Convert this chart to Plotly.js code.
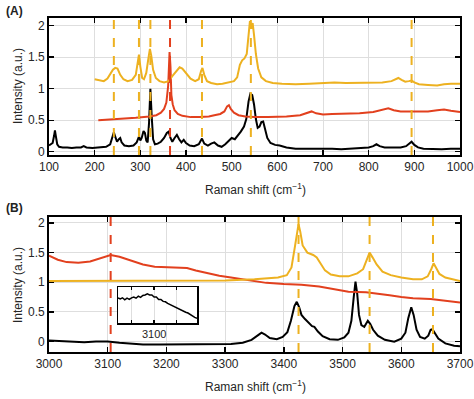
<!DOCTYPE html>
<html><head><meta charset="utf-8">
<script src="https://cdn.plot.ly/plotly-3.0.1.min.js"></script>
<style>html,body{margin:0;padding:0;background:#fff}#chart{width:474px;height:399px}</style>
</head><body><div id="chart"></div>
<script>
// ---------- DATA ----------
const aBlackX = [100,104,108,111,113,115,118,122,130,140,150,160,170,176,182,195,210,225,234,239,242,245,249,253,256,259,265,275,285,292,297,300,303,307,310,313,316,319,322,325,328,332,338,345,352,358,362,366,370,375,380,385,390,395,400,408,418,428,435,440,448,455,462,470,478,486,493,500,507,513,520,527,532,537,541,545,549,553,557,561,565,569,573,578,585,595,605,620,640,660,680,700,720,740,760,780,800,810,817,824,835,850,870,882,890,894,900,908,920,940,960,980,1000];
const aBlackY = [0.10,0.12,0.14,0.25,0.34,0.25,0.12,0.08,0.07,0.07,0.06,0.07,0.07,0.09,0.07,0.06,0.07,0.08,0.12,0.22,0.31,0.24,0.16,0.20,0.22,0.15,0.10,0.09,0.10,0.15,0.24,0.18,0.22,0.33,0.30,0.18,0.15,0.45,1.00,0.55,0.20,0.12,0.13,0.16,0.22,0.30,0.32,0.22,0.16,0.22,0.27,0.20,0.15,0.19,0.14,0.10,0.09,0.12,0.21,0.13,0.10,0.13,0.15,0.10,0.08,0.12,0.17,0.22,0.20,0.25,0.32,0.40,0.52,0.80,0.92,0.90,0.75,0.52,0.38,0.40,0.47,0.48,0.38,0.22,0.14,0.11,0.10,0.07,0.05,0.05,0.06,0.06,0.05,0.04,0.05,0.05,0.07,0.09,0.12,0.09,0.07,0.07,0.07,0.09,0.14,0.16,0.11,0.07,0.05,0.04,0.04,0.05,0.05];

const aRedX = [208,230,260,290,320,335,345,352,357,361,364,366,368,371,375,382,392,410,430,450,462,475,484,490,494,498,505,515,530,550,580,620,650,665,675,685,700,720,750,780,810,830,843,855,870,900,930,950,965,980,1000];
const aRedY = [0.50,0.51,0.52,0.54,0.56,0.58,0.62,0.68,0.78,1.05,1.58,1.35,0.90,0.75,0.66,0.60,0.57,0.55,0.55,0.56,0.58,0.60,0.64,0.72,0.74,0.68,0.62,0.58,0.56,0.55,0.55,0.56,0.58,0.62,0.64,0.61,0.59,0.60,0.60,0.61,0.63,0.66,0.69,0.66,0.64,0.64,0.64,0.66,0.67,0.65,0.63];

const aYellowX = [200,210,220,228,235,240,245,250,256,263,272,282,290,294,297,300,304,308,313,317,321,324,328,334,342,352,362,370,378,386,392,400,410,420,428,433,436,440,446,455,468,480,495,505,512,518,523,528,533,537,540,543,546,549,553,558,565,575,590,610,640,670,700,725,750,775,800,830,850,858,865,872,880,888,894,900,910,930,950,965,980,1000];
const aYellowY = [1.15,1.13,1.12,1.16,1.25,1.30,1.33,1.32,1.22,1.15,1.12,1.14,1.22,1.38,1.54,1.35,1.17,1.15,1.25,1.45,1.63,1.52,1.30,1.17,1.12,1.10,1.12,1.20,1.28,1.34,1.32,1.24,1.16,1.12,1.15,1.28,1.33,1.22,1.12,1.09,1.07,1.08,1.10,1.12,1.18,1.38,1.45,1.48,1.55,1.80,2.07,1.95,2.04,1.85,1.55,1.32,1.18,1.12,1.09,1.08,1.07,1.08,1.09,1.10,1.09,1.09,1.09,1.10,1.12,1.15,1.17,1.14,1.11,1.12,1.13,1.10,1.07,1.06,1.05,1.07,1.08,1.08];

const bBlackX = [3000,3020,3040,3060,3080,3100,3120,3140,3160,3190,3220,3250,3280,3310,3330,3345,3355,3362,3368,3376,3388,3398,3406,3412,3418,3422,3426,3430,3436,3442,3448,3452,3458,3466,3478,3492,3503,3510,3515,3519,3522,3525,3528,3532,3537,3543,3547,3552,3560,3572,3588,3600,3607,3612,3617,3621,3626,3632,3640,3646,3650,3653,3657,3663,3675,3690,3700];
const bBlackY = [0.02,0.01,-0.01,-0.01,0.00,0.00,-0.02,-0.04,-0.05,-0.05,-0.05,-0.05,-0.04,-0.04,-0.02,0.03,0.10,0.15,0.12,0.06,0.04,0.08,0.16,0.35,0.60,0.67,0.58,0.45,0.38,0.32,0.26,0.25,0.17,0.09,0.04,0.03,0.07,0.15,0.35,0.75,1.01,0.80,0.45,0.28,0.25,0.35,0.30,0.20,0.10,0.03,0.00,0.05,0.15,0.40,0.58,0.45,0.20,0.08,0.05,0.10,0.20,0.21,0.14,0.05,-0.03,-0.07,-0.08];

const bRedX = [3000,3015,3030,3050,3070,3090,3105,3120,3140,3160,3180,3200,3220,3235,3250,3270,3290,3310,3330,3350,3370,3400,3430,3460,3490,3510,3540,3560,3580,3600,3620,3650,3670,3700];
const bRedY = [1.45,1.38,1.34,1.33,1.35,1.41,1.46,1.43,1.36,1.30,1.26,1.25,1.25,1.24,1.20,1.15,1.11,1.08,1.05,1.02,0.99,0.97,0.96,0.93,0.87,0.84,0.83,0.81,0.78,0.75,0.73,0.72,0.70,0.66];

const bYellowX = [3000,3100,3200,3300,3350,3390,3405,3413,3418,3422,3425,3428,3432,3440,3450,3456,3462,3470,3480,3495,3510,3525,3535,3541,3546,3551,3558,3568,3582,3600,3620,3635,3645,3651,3655,3659,3665,3675,3690,3700];
const bYellowY = [1.02,1.02,1.02,1.03,1.05,1.08,1.12,1.25,1.55,1.85,1.98,1.85,1.62,1.50,1.46,1.42,1.32,1.20,1.13,1.10,1.10,1.15,1.22,1.38,1.50,1.42,1.30,1.18,1.12,1.08,1.05,1.05,1.10,1.22,1.32,1.25,1.14,1.08,1.04,1.02];

const insetX = [3020,3025,3030,3035,3040,3045,3050,3055,3060,3065,3070,3075,3080,3085,3090,3095,3100,3105,3110,3115,3120,3125,3130,3135,3140,3145,3150,3155,3160,3165,3170,3175,3180,3185,3190,3195];
const insetY = [0.68,0.65,0.68,0.63,0.67,0.64,0.68,0.70,0.67,0.72,0.69,0.74,0.75,0.78,0.75,0.75,0.70,0.70,0.64,0.64,0.59,0.58,0.54,0.51,0.48,0.46,0.42,0.41,0.37,0.35,0.32,0.30,0.26,0.23,0.19,0.17];
const insetTickVals = [3050,3100,3150];
const insetLabel = '3100';

const aYellowMarks = [242,297,322,435,542,894];
const aRedMarks = [365];
const bRedMarks = [3105];
const bYellowMarks = [3425,3546,3654];

const xTicksA = [100,200,300,400,500,600,700,800,900,1000];
const xTicksB = [3000,3100,3200,3300,3400,3500,3600,3700];
const yTicks = [0,0.5,1,1.5,2];
const yTickText = ['0','0.5','1','1.5','2'];

// ---------- STYLE / LAYOUT ----------
const W = 474, H = 399;
const px = v => v / W;
const py = v => 1 - v / H;
const YEL = '#EDB120', RED = '#E2401E', BLK = '#000000';
const FONT = {family: 'Liberation Sans, Arial, sans-serif', size: 12, color: '#262626'};

function line(x, y, c, xa, ya, w) {
  return {x: x, y: y, type: 'scatter', mode: 'lines', xaxis: xa, yaxis: ya,
          line: {color: c, width: w || 2}, hoverinfo: 'skip', showlegend: false};
}
const data = [
  line(aBlackX, aBlackY, BLK, 'x', 'y'),
  line(aRedX, aRedY, RED, 'x', 'y'),
  line(aYellowX, aYellowY, YEL, 'x', 'y'),
  line(bBlackX, bBlackY, BLK, 'x2', 'y2'),
  line(bRedX, bRedY, RED, 'x2', 'y2'),
  line(bYellowX, bYellowY, YEL, 'x2', 'y2'),
  line(insetX, insetY, BLK, 'x3', 'y3', 1.5)
];

function ax(extra) {
  return Object.assign({
    showgrid: true, gridcolor: '#dedede', gridwidth: 1, zeroline: false,
    showline: true, linecolor: '#000', linewidth: 1.8, mirror: 'ticks',
    ticks: 'inside', ticklen: 5, tickwidth: 1.3, tickcolor: '#000',
    tickfont: FONT, fixedrange: true
  }, extra);
}

const shapes = [];
function vmarks(list, c, xr, yr) {
  list.forEach(v => shapes.push({type: 'line', xref: xr, yref: yr + ' domain', x0: v, x1: v, y0: 0, y1: 1,
    line: {color: c, width: 2, dash: 'dash'}, layer: 'above'}));
}
shapes.push({type: 'rect', xref: 'x3 domain', yref: 'y3 domain', x0: 0, x1: 1, y0: 0, y1: 1,
  fillcolor: '#fff', line: {width: 0}, layer: 'below'});
vmarks(aYellowMarks, YEL, 'x', 'y');
vmarks(aRedMarks, RED, 'x', 'y');
vmarks(bRedMarks, RED, 'x2', 'y2');
vmarks(bYellowMarks, YEL, 'x2', 'y2');

const ann = (t, x, y, extra) => Object.assign({text: t, xref: 'paper', yref: 'paper', x: px(x), y: py(y),
  showarrow: false, font: FONT, xanchor: 'center', yanchor: 'middle'}, extra || {});

const layout = {
  width: W, height: H, margin: {l: 0, r: 0, t: 0, b: 0},
  paper_bgcolor: '#fff', plot_bgcolor: '#fff', showlegend: false, font: FONT,
  xaxis: ax({domain: [px(49), px(460)], anchor: 'y', range: [100, 1000], tickvals: xTicksA}),
  yaxis: ax({domain: [py(155), py(18)], anchor: 'x', range: [-0.05, 2.12], tickvals: yTicks, ticktext: yTickText}),
  xaxis2: ax({domain: [px(49), px(460)], anchor: 'y2', range: [3000, 3700], tickvals: xTicksB}),
  yaxis2: ax({domain: [py(352), py(217)], anchor: 'x2', range: [-0.175, 2.1], tickvals: yTicks, ticktext: yTickText}),
  xaxis3: ax({domain: [px(118), px(197)], anchor: 'y3', range: [3020, 3195], tickvals: insetTickVals,
              showticklabels: false, ticklen: 3, linewidth: 1.5}),
  yaxis3: ax({domain: [py(323), py(287)], anchor: 'x3', range: [0.05, 0.95], showgrid: false, ticks: '',
              showticklabels: false, linewidth: 1.5}),
  shapes: shapes,
  annotations: [
    ann('<b>(A)</b>', 4, 11, {xanchor: 'left', font: {family: FONT.family, size: 12, color: '#222'}}),
    ann('<b>(B)</b>', 4, 208, {xanchor: 'left', font: {family: FONT.family, size: 12, color: '#222'}}),
    ann('Raman shift (cm<sup>−1</sup>)', 255, 189),
    ann('Raman shift (cm<sup>−1</sup>)', 255, 386),
    ann('Intensity (a.u.)', 18, 86, {textangle: -90}),
    ann('Intensity (a.u.)', 18, 285, {textangle: -90}),
    {text: insetLabel, xref: 'x3', yref: 'paper', x: 3100, y: py(334), showarrow: false,
     font: {family: FONT.family, size: 11, color: '#262626'}, xanchor: 'center', yanchor: 'middle'}
  ]
};

Plotly.newPlot('chart', data, layout, {staticPlot: true, displayModeBar: false});
</script>
</body></html>
